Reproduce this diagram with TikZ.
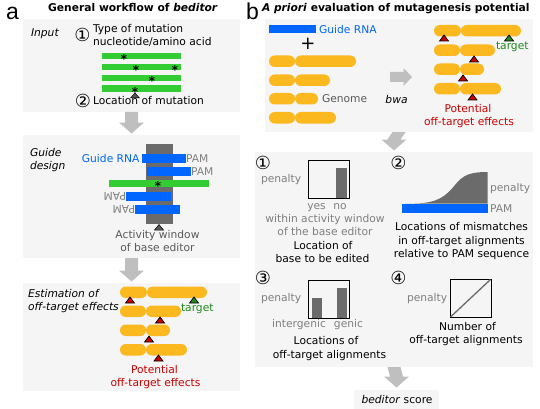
\documentclass[tikz,border=0pt]{standalone}
\usepackage{fontspec}
\setmainfont{DejaVu Sans}
\newfontfamily\labfont{Liberation Sans}
\usetikzlibrary{calc}
\definecolor{boxgray}{HTML}{F5F5F5}
\definecolor{arrgray}{HTML}{BFBFBF}
\definecolor{dgray}{HTML}{6B6B6B}
\definecolor{tgray}{HTML}{7F7F7F}
\definecolor{dtext}{HTML}{595959}
\definecolor{ggreen}{HTML}{33CC33}
\definecolor{gblue}{HTML}{0066FF}
\definecolor{gorange}{HTML}{FBB81F}
\definecolor{gred}{HTML}{CC0000}
\definecolor{tgreen}{HTML}{1E8A1E}
\newcommand\myfs{\fontsize{10.7}{13}\selectfont}
\newcommand\chrom[4]{%
  \fill[gorange, rounded corners=5.8pt] (#1,#4) rectangle (#2,#4+11.5);
  \fill[gorange, rounded corners=5.8pt] (#2,#4) rectangle (#3,#4+11.5);}
\newcommand\tri[3]{%
  \filldraw[fill=#1, draw=black, line width=0.7pt, line join=miter] (#2-4.5,#3) -- (#2+4.5,#3) -- (#2,#3-6) -- cycle;}
\newcommand\astmark[2]{\node[font=\fontsize{12}{12}\selectfont\bfseries, anchor=center, text height=2.8pt, text depth=2.8pt] at (#1,#2) {\raisebox{-7.1pt}{*}};}
\newcommand\blockarrow[2]{%
  \fill[arrgray] ($(#1)+(-6.5,0)$) -- ($(#1)+(6.5,0)$) -- ($(#2)+(6.5,-11)$) -- ($(#2)+(12.5,-11)$)
    -- (#2) -- ($(#2)+(-12.5,-11)$) -- ($(#2)+(-6.5,-11)$) -- cycle;}
\begin{document}
\begin{tikzpicture}[x=1pt,y=-1pt,
  every node/.style={inner sep=0pt, outer sep=0pt, font=\myfs},
  panel/.style={fill=boxgray, draw=none, anchor=north west},
  it/.style={font=\myfs\itshape},
  num/.style={font=\fontsize{18}{18}\selectfont},
  gtext/.style={text=tgray},
  bar/.style={anchor=north west, minimum height=8.5pt},
  ptext/.style={anchor=base, text=gred},
  pbox/.style={draw=black, line width=0.8pt},
]
\useasboundingbox (0,0) rectangle (540,409);
\fill[white] (0,0) rectangle (540,409);

% ---------------- panel a ----------------
\node[anchor=base west, font=\labfont\fontsize{23}{23}\selectfont] (la) at (6,20) {a};
\node[anchor=base, font=\myfs\bfseries] (ta) at (133,12) {General workflow of \textit{beditor}};

\node[panel, minimum width=217pt, minimum height=93pt] (boxA) at (23,19) {};
\node[panel, minimum width=217pt, minimum height=123pt] (boxB) at (23,135) {};
\node[panel, minimum width=217pt, minimum height=108pt] (boxC) at (23,283) {};

% input
\node[it, anchor=base west] (inp) at (31,37) {Input};
\node[num] (n1) at (82.5,35) {①};
\node[anchor=base west] (t1) at (93,33) {Type of mutation};
\node[anchor=base west] (t2) at (93,46) {nucleotide/amino acid};
\fill[ggreen] (102,53) rectangle (181,59.5);
\fill[ggreen] (102,64) rectangle (181,70.5);
\fill[ggreen] (102,75) rectangle (181,81.5);
\fill[ggreen] (102,85.5) rectangle (181,92);
\astmark{124}{56}
\astmark{136}{67}
\astmark{175}{67}
\astmark{152}{78}
\astmark{135}{89}
\filldraw[fill=dgray!80!black, draw=black, line width=0.5pt] (130.5,98) -- (139.5,98) -- (135,93) -- cycle;
\node[num] (n2) at (83,101) {②};
\node[anchor=base west] (t3) at (93,105) {Location of mutation};

% guide design
\node[it, anchor=base west] (gd1) at (30,156) {Guide};
\node[it, anchor=base west] (gd2) at (30,169) {design};
\fill[dgray] (146,144) rectangle (173,224);
\node[bar, fill=gblue, minimum width=44pt] (g1) at (142,154) {};
\node[bar, fill=gblue, minimum width=44pt] (g2) at (147,167) {};
\node[bar, fill=ggreen, minimum width=100pt, minimum height=7pt] (gg) at (109,180) {};
\node[bar, fill=gblue, minimum width=45pt] (g3) at (126,192) {};
\node[bar, fill=gblue, minimum width=45pt] (g4) at (135,205) {};
\astmark{158}{183.5}
\node[anchor=east, text=gblue] (grna) at ([xshift=-2.5pt]g1.west) {Guide RNA};
\node[anchor=west, gtext] (pam1) at (g1.east) {PAM};
\node[anchor=west, gtext] (pam2) at (g2.east) {PAM};
\node[anchor=west, gtext, rotate=180] (pam3) at (g3.west) {PAM};
\node[anchor=west, gtext, rotate=180] (pam4) at (g4.west) {PAM};
\filldraw[fill=dgray!80!black, draw=black, line width=0.5pt] (154.5,230) -- (163.5,230) -- (159,224.5) -- cycle;
\node[anchor=base, text=dtext] (aw1) at (157.5,238) {Activity window};
\node[anchor=base, text=dtext] (aw2) at (157.5,251) {of base editor};

% estimation
\node[it, anchor=base west] (es1) at (28,297) {Estimation of};
\node[it, anchor=base west] (es2) at (28,310) {off-target effects};
\chrom{120}{147}{207}{286.5}
\chrom{120}{146}{181}{305.5}
\chrom{120}{146}{170}{324.5}
\chrom{120}{146}{187}{344}
\tri{gred}{130}{303}
\tri{tgreen}{194}{303}
\tri{gred}{160}{323}
\tri{gred}{149}{342}
\tri{gred}{158.5}{361}
\node[anchor=base west, text=tgreen] (tga) at (181,311) {target};
\node[ptext] (poa1) at (154.5,373) {Potential};
\node[ptext] (poa2) at (155.5,386) {off-target effects};

\coordinate (arB) at ($(boxB.north)+(0,-1.5)$);
\coordinate (arC) at ($(boxC.north)+(0,-1.5)$);
\blockarrow{boxA.south}{arB}
\blockarrow{boxB.south}{arC}

% ---------------- panel b ----------------
\node[anchor=base west, font=\labfont\fontsize{23}{23}\selectfont] (lb) at (246,20) {b};
\node[anchor=base west, font=\myfs\bfseries] (tb) at (262,12) {\textit{A priori} evaluation of mutagenesis potential};

\node[panel, minimum width=268pt, minimum height=113pt] (boxD) at (265,19) {};
\node[panel, minimum width=278pt, minimum height=215pt] (boxE) at (255,152) {};
\node[panel, minimum width=85pt, minimum height=19pt] (boxF) at (354,390) {};

\node[bar, fill=gblue, minimum width=47pt] (gb) at (269,25) {};
\node[anchor=west, text=gblue] (grnab) at ([xshift=3pt]gb.east) {Guide RNA};
\node[font=\fontsize{18}{18}\selectfont] (plus) at (308,43.5) {+};
\chrom{269}{295}{356}{55.5}
\chrom{269}{295}{330}{74.5}
\chrom{269}{295}{318}{93}
\chrom{269}{295}{336}{112}
\node[anchor=west, text=dtext] (gen) at (322,99) {Genome};

\coordinate (bw1) at (390,77);
\coordinate (bw2) at (412,77);
\fill[arrgray] ($(bw1)+(0,-5)$) -- ($(bw2)+(-8.5,-5)$) -- ($(bw2)+(-8.5,-9)$) -- (bw2)
   -- ($(bw2)+(-8.5,9)$) -- ($(bw2)+(-8.5,5)$) -- ($(bw1)+(0,5)$) -- cycle;
\node[it, anchor=base] (bwa) at (396.5,103) {bwa};

\chrom{434}{461}{521}{25}
\chrom{434}{460}{495}{44.5}
\chrom{434}{460}{484}{63.5}
\chrom{434}{460}{501}{83}
\tri{gred}{444}{41}
\tri{tgreen}{509}{41}
\tri{gred}{474}{62}
\tri{gred}{463}{81}
\tri{gred}{472.5}{100}
\node[anchor=base west, text=tgreen] (tgb) at (496,50) {target};
\node[ptext] (pob1) at (468,113) {Potential};
\node[ptext] (pob2) at (469,125) {off-target effects};

\coordinate (arE) at ($(boxE.north)+(0,-1.5)$);
\blockarrow{boxD.south}{arE}

% criterion 1
\node[num] (c1) at (263,163) {①};
\node[anchor=west, gtext] (pe1) at (261,180) {penalty};
\draw[pbox] (308.5,160.5) rectangle (349,198);
\fill[dgray] (336,168) rectangle (346.5,197.6);
\node[anchor=base, gtext] (yes) at (316.5,209) {yes};
\node[anchor=base, gtext] (no) at (340,209) {no};
\node[anchor=base, gtext] (w1) at (325,222) {within activity window};
\node[anchor=base, gtext] (w2) at (325,235.5) {of the base editor};
\node[anchor=base] (w3) at (323,249) {Location of};
\node[anchor=base] (w4) at (322.5,262.5) {base to be edited};

% criterion 2
\node[num] (c2) at (398.5,163) {②};
\fill[dgray] (405,203.5) -- (415,203.5) .. controls (438,203) and (446,196) .. (455,185)
  .. controls (463,175) and (470,172) .. (487.5,172) -- (487.5,203.5) -- cycle;
\node[bar, fill=gblue, minimum width=86pt] (gpam) at (402,204) {};
\node[anchor=west, gtext] (pe2) at (490,189) {penalty};
\node[anchor=west, gtext] (pam5) at (490,208.5) {PAM};
\node[anchor=base] (m1) at (461.5,230.5) {Locations of mismatches};
\node[anchor=base] (m2) at (461.5,244) {in off-target alignments};
\node[anchor=base] (m3) at (461.5,257.5) {relative to PAM sequence};

% criterion 3
\node[num] (c3) at (263,278) {③};
\node[anchor=west, gtext] (pe3) at (261,299) {penalty};
\draw[pbox] (308.5,280) rectangle (349,318);
\fill[dgray] (312,298) rectangle (322,317.6);
\fill[dgray] (337,288) rectangle (347,317.6);
\node[anchor=base, gtext] (ig) at (299,327) {intergenic};
\node[anchor=base, gtext] (ge) at (348.5,327) {genic};
\node[anchor=base] (l1) at (326,344.5) {Locations of};
\node[anchor=base] (l2) at (329.5,358) {off-target alignments};

% criterion 4
\node[num] (c4) at (398.5,278) {④};
\node[anchor=west, gtext] (pe4) at (407,299) {penalty};
\draw[pbox] (450,279) rectangle (491,317.5);
\draw[dgray, line width=1.3pt] (450.6,316.9) -- (490.4,279.6);
\node[anchor=base] (nu1) at (467.5,330) {Number of};
\node[anchor=base] (nu2) at (466,343.5) {off-target alignments};

\coordinate (arF) at ($(boxF.north)+(0,-2.5)$);
\blockarrow{boxE.south}{arF}
\node (score) at (397,400) {\textit{beditor} score};
\end{tikzpicture}
\end{document}
